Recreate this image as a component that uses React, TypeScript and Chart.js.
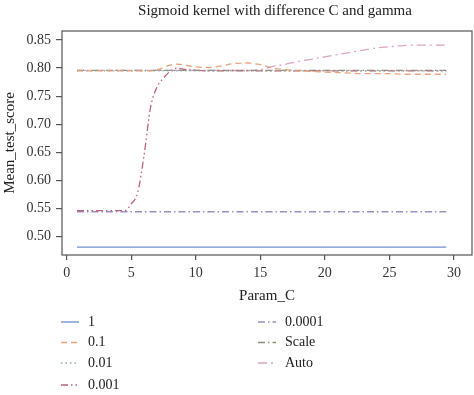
import React, { useEffect, useRef } from "react";
import { Chart, registerables } from "chart.js";

Chart.register(...registerables);

const TITLE = "Sigmoid kernel with difference C and gamma";
const X_TITLE = "Param_C";
const Y_TITLE = "Mean_test_score";

const paramC = [0.8, 1.5, 2.5, 3.5, 4.5, 5, 5.5, 6, 6.5, 7, 7.5, 8, 8.5, 9, 10, 11, 12, 13, 14, 15, 16, 17, 18, 19, 20, 21, 22, 23, 24, 25, 26, 27, 28, 29.4];

const gamma1 = [0.481, 0.481, 0.481, 0.481, 0.481, 0.481, 0.481, 0.481, 0.481, 0.481, 0.481, 0.481, 0.481, 0.481, 0.481, 0.481, 0.481, 0.481, 0.481, 0.481, 0.481, 0.481, 0.481, 0.481, 0.481, 0.481, 0.481, 0.481, 0.481, 0.481, 0.481, 0.481, 0.481, 0.481];
const gamma0_1 = [0.795, 0.795, 0.795, 0.795, 0.795, 0.795, 0.795, 0.795, 0.795, 0.797, 0.801, 0.805, 0.807, 0.806, 0.802, 0.801, 0.804, 0.808, 0.809, 0.806, 0.800, 0.797, 0.795, 0.794, 0.793, 0.792, 0.791, 0.790, 0.790, 0.790, 0.789, 0.789, 0.789, 0.789];
const gamma0_01 = [0.795, 0.795, 0.795, 0.795, 0.795, 0.795, 0.795, 0.795, 0.795, 0.795, 0.795, 0.795, 0.795, 0.795, 0.795, 0.795, 0.795, 0.795, 0.795, 0.795, 0.795, 0.795, 0.795, 0.795, 0.795, 0.795, 0.795, 0.795, 0.795, 0.795, 0.795, 0.795, 0.795, 0.795];
const gamma0_001 = [0.546, 0.546, 0.546, 0.546, 0.546, 0.558, 0.578, 0.645, 0.73, 0.766, 0.782, 0.794, 0.800, 0.798, 0.796, 0.795, 0.795, 0.795, 0.795, 0.795, 0.795, 0.795, 0.795, 0.795, 0.795, 0.795, 0.795, 0.795, 0.795, 0.795, 0.795, 0.795, 0.795, 0.795];
const gamma0_0001 = [0.544, 0.544, 0.544, 0.544, 0.544, 0.544, 0.544, 0.544, 0.544, 0.544, 0.544, 0.544, 0.544, 0.544, 0.544, 0.544, 0.544, 0.544, 0.544, 0.544, 0.544, 0.544, 0.544, 0.544, 0.544, 0.544, 0.544, 0.544, 0.544, 0.544, 0.544, 0.544, 0.544, 0.544];
const gammaScale = [0.796, 0.796, 0.796, 0.796, 0.796, 0.796, 0.796, 0.796, 0.796, 0.796, 0.796, 0.796, 0.796, 0.796, 0.796, 0.796, 0.796, 0.796, 0.796, 0.796, 0.796, 0.796, 0.796, 0.796, 0.796, 0.796, 0.796, 0.796, 0.796, 0.796, 0.796, 0.796, 0.796, 0.796];
const gammaAuto = [0.796, 0.796, 0.796, 0.796, 0.796, 0.796, 0.796, 0.796, 0.796, 0.796, 0.796, 0.796, 0.796, 0.796, 0.796, 0.796, 0.796, 0.796, 0.796, 0.797, 0.803, 0.807, 0.812, 0.816, 0.820, 0.824, 0.828, 0.832, 0.836, 0.838, 0.840, 0.841, 0.841, 0.841];

const xTicks = [0, 5, 10, 15, 20, 25, 30];
const yTicks = [0.5, 0.55, 0.6, 0.65, 0.7, 0.75, 0.8, 0.85];

const seriesLabels = ["1", "0.1", "0.01", "0.001", "0.0001", "Scale", "Auto"];
const seriesValues = [gamma1, gamma0_1, gamma0_01, gamma0_001, gamma0_0001, gammaScale, gammaAuto];
const seriesColors = ["#6f8fcb", "#e9a47e", "#8fb3ad", "#bc6372", "#9a8fc2", "#8c8f7c", "#dca3c4"];
const seriesDashes = [[], [6, 4], [1.5, 3], [7, 3, 1.5, 3, 1.5, 3], [7, 3, 1.5, 3], [7, 3, 1.5, 3], [9, 4, 2, 4]];

const FONT = '"Liberation Serif", "DejaVu Serif", serif';

const framePlugin = {
  id: "frameAndLegend",
  afterDraw(chart: any) {
    const { ctx, chartArea } = chart;
    ctx.save();
    ctx.strokeStyle = "#555";
    ctx.lineWidth = 1.2;
    ctx.setLineDash([]);
    ctx.strokeRect(chartArea.left, chartArea.top, chartArea.right - chartArea.left, chartArea.bottom - chartArea.top);

    ctx.fillStyle = "#222";
    ctx.font = `15px ${FONT}`;
    ctx.textAlign = "center";
    ctx.textBaseline = "middle";
    ctx.fillText(TITLE, 275, 11);

    // legend in two columns
    ctx.font = `14px ${FONT}`;
    ctx.textAlign = "left";
    const cols = [
      { x0: 61, x1: 79, tx: 88 },
      { x0: 258, x1: 276, tx: 285 },
    ];
    const rowsY = [322, 342.5, 363, 385];
    chart.data.datasets.forEach((ds: any, i: number) => {
      const col = i < 4 ? cols[0] : cols[1];
      const y = rowsY[i < 4 ? i : i - 4];
      ctx.strokeStyle = ds.borderColor;
      ctx.lineWidth = 1.3;
      ctx.setLineDash(ds.borderDash || []);
      ctx.beginPath();
      ctx.moveTo(col.x0, y);
      ctx.lineTo(col.x1, y);
      ctx.stroke();
      ctx.setLineDash([]);
      ctx.fillStyle = "#222";
      ctx.fillText(ds.label, col.tx, y);
    });
    ctx.restore();
  },
};

export default function App() {
  const canvasRef = useRef<HTMLCanvasElement | null>(null);

  useEffect(() => {
    document.body.style.margin = "0";
    const canvas = canvasRef.current;
    if (!canvas) return;
    const datasets = seriesLabels.map((label, i) => ({
      label,
      data: paramC.map((c, j) => ({ x: c, y: seriesValues[i][j] })),
      borderColor: seriesColors[i],
      backgroundColor: seriesColors[i],
      borderDash: seriesDashes[i],
      borderWidth: 1.3,
      pointRadius: 0,
      fill: false,
      cubicInterpolationMode: "monotone" as const,
    }));

    const chart = new Chart(canvas, {
      type: "line",
      data: { datasets },
      plugins: [framePlugin],
      options: {
        responsive: false,
        animation: false,
        layout: { padding: { top: 31, right: 2, bottom: 88, left: 0 } },
        plugins: {
          legend: { display: false },
          title: { display: false },
          tooltip: { enabled: false },
        },
        scales: {
          x: {
            type: "linear",
            min: -0.36,
            max: 31.4,
            afterBuildTicks: (scale: any) => {
              scale.ticks = xTicks.map((v) => ({ value: v }));
            },
            afterFit: (scale: any) => {
              scale.height = 52;
            },
            grid: { display: true, drawOnChartArea: false, drawTicks: true, tickLength: 5, color: "#555", lineWidth: 1.2 },
            border: { display: false },
            ticks: { color: "#333", font: { family: FONT, size: 14 }, padding: 5, maxRotation: 0 },
            title: { display: true, text: X_TITLE, color: "#222", font: { family: FONT, size: 15 }, padding: { top: 0, bottom: 2 } },
          },
          y: {
            type: "linear",
            min: 0.467,
            max: 0.866,
            afterBuildTicks: (scale: any) => {
              scale.ticks = yTicks.map((v) => ({ value: v }));
            },
            afterFit: (scale: any) => {
              scale.width = 62;
            },
            grid: { display: true, drawOnChartArea: false, drawTicks: true, tickLength: 6, color: "#555", lineWidth: 1.2 },
            border: { display: false },
            ticks: {
              color: "#333",
              font: { family: FONT, size: 14 },
              padding: 5,
              callback: (v: any) => Number(v).toFixed(2),
            },
            title: { display: true, text: Y_TITLE, color: "#222", font: { family: FONT, size: 15 }, padding: { top: 1, bottom: 0 } },
          },
        },
      },
    });
    return () => chart.destroy();
  }, []);

  return <canvas ref={canvasRef} width={474} height={395} style={{ display: "block" }} />;
}
